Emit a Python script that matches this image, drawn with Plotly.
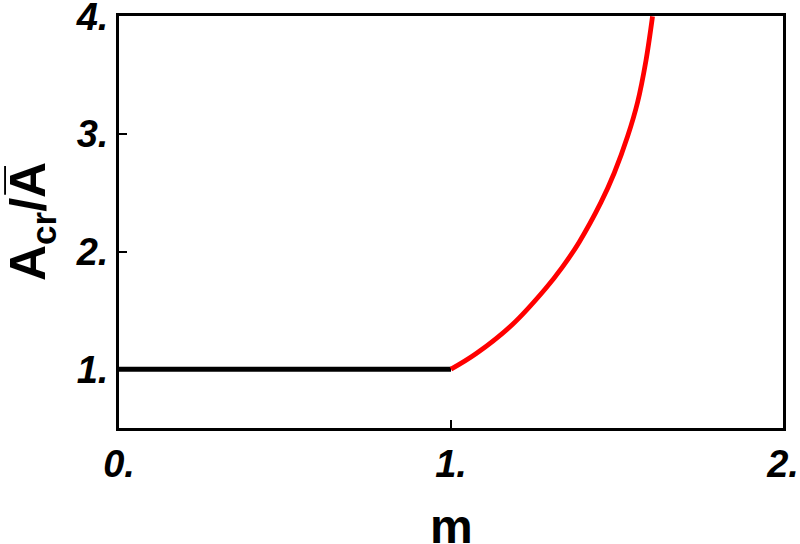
import plotly.graph_objects as go

# flat branch (m < 1)
m_flat = [0.0, 1.0]
a_flat = [1.0, 1.0]

# rising branch (m > 1)
m_rise = [1.0, 1.076, 1.185, 1.285, 1.336, 1.386, 1.452, 1.492, 1.532, 1.562, 1.587, 1.607]
a_rise = [1.0, 1.133, 1.38, 1.686, 1.87, 2.08, 2.42, 2.67, 2.98, 3.27, 3.62, 4.0]

x_ticks = [0, 1, 2]
x_ticktext = ["0.", "1.", "2."]
y_ticks = [1, 2, 3, 4]
y_ticktext = ["1.", "2.", "3.", "4."]

x_title = "m"
y_title = "A<sub>cr</sub>/A\u0305"

fig = go.Figure()
fig.add_trace(go.Scatter(x=m_flat, y=a_flat, mode="lines",
                         line=dict(color="black", width=5), showlegend=False))
fig.add_trace(go.Scatter(x=m_rise, y=a_rise, mode="lines",
                         line=dict(color="#ff0000", width=4.8, shape="spline", smoothing=1.0),
                         showlegend=False))

tick_font = dict(family="Liberation Sans, Arial", size=38, color="black",
                 weight="bold", style="italic")
title_font = dict(family="Liberation Sans, Arial", size=48, color="black", weight="bold")

axis_common = dict(showline=True, linecolor="black", linewidth=3, mirror=True,
                   ticks="inside", ticklen=8, tickwidth=2, tickcolor="black",
                   showgrid=False, zeroline=False, tickfont=tick_font,
                   automargin=False, ticklabeloverflow="allow")

fig.update_xaxes(range=[0, 2], tickvals=x_ticks, ticktext=x_ticktext, **axis_common)
fig.update_yaxes(range=[0.5, 4.003], tickvals=y_ticks, ticktext=y_ticktext, **axis_common)

# axis titles as annotations so they can sit where the original has them
fig.add_annotation(text=x_title, xref="paper", yref="paper", x=0.5, y=0,
                   xanchor="center", yanchor="middle", yshift=-98,
                   showarrow=False, font=title_font)
fig.add_annotation(text=y_title, xref="paper", yref="paper", x=0, y=0.5,
                   xanchor="center", yanchor="middle", xshift=-88, textangle=-90,
                   showarrow=False, font=dict(title_font, size=50))

fig.update_layout(width=800, height=544, plot_bgcolor="white", paper_bgcolor="white",
                  margin=dict(l=119, r=17, t=16, b=116))

# drop the page's default body margin so the figure sits at the window's corner
fig.write_html("out.html", config={"displayModeBar": False},
               post_script="document.body.style.margin='0';")
